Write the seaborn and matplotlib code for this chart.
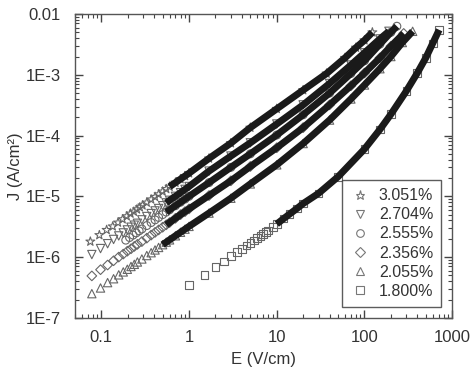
import matplotlib
matplotlib.use("Agg")
import matplotlib.pyplot as plt
import numpy as np
import pandas as pd
import seaborn as sns
from matplotlib.ticker import FixedLocator, FixedFormatter, LogLocator, NullFormatter
from matplotlib.lines import Line2D

# ---------------- data ----------------
series_labels = ["3.051%", "2.704%", "2.555%", "2.356%", "2.055%", "1.800%"]

star_E = [0.075, 0.095, 0.115, 0.135, 0.155, 0.175, 0.195, 0.215, 0.235, 0.255, 0.275, 0.295,
          0.33, 0.37, 0.41, 0.45, 0.5, 0.55, 0.6, 0.7, 0.8, 0.9,
          1, 1.69, 3, 5, 10, 20, 37, 60, 80, 100, 123]
star_J = [1.8e-6, 2.3e-6, 2.8e-6, 3.2e-6, 3.7e-6, 4.2e-6, 4.7e-6, 5.2e-6, 5.6e-6, 6.1e-6, 6.6e-6, 7.1e-6,
          7.9e-6, 8.9e-6, 9.8e-6, 1.08e-5, 1.2e-5, 1.32e-5, 1.44e-5, 1.68e-5, 1.92e-5, 2.16e-5,
          2.4e-5, 4.2e-5, 7.5e-5, 1.35e-4, 2.75e-4, 5.6e-4, 1.05e-3, 1.9e-3, 2.8e-3, 3.7e-3, 5.0e-3]

dtri_E = [0.078, 0.098, 0.118, 0.138, 0.158, 0.178, 0.198, 0.218, 0.238, 0.258,
          0.29, 0.33, 0.37, 0.41, 0.45, 0.5, 0.55, 0.6, 0.7, 0.8, 0.9,
          1, 1.69, 3, 5, 10, 20, 40, 70, 100, 150, 190]
dtri_J = [1.1e-6, 1.38e-6, 1.66e-6, 1.95e-6, 2.23e-6, 2.5e-6, 2.8e-6, 3.1e-6, 3.35e-6, 3.6e-6,
          4.1e-6, 4.65e-6, 5.2e-6, 5.75e-6, 6.3e-6, 7.0e-6, 7.8e-6, 8.6e-6, 1.0e-5, 1.15e-5, 1.3e-5,
          1.45e-5, 2.6e-5, 4.6e-5, 7.6e-5, 1.55e-4, 3.2e-4, 7.2e-4, 1.45e-3, 2.3e-3, 3.9e-3, 5.2e-3]

circ_E = [0.19, 0.21, 0.23, 0.25, 0.27, 0.29,
          0.33, 0.37, 0.41, 0.45, 0.5, 0.55, 0.6, 0.7, 0.8, 0.9,
          1, 1.69, 3, 5, 10, 20, 40, 70, 100, 150, 200, 234]
circ_J = [1.9e-6, 2.1e-6, 2.3e-6, 2.5e-6, 2.7e-6, 2.9e-6,
          3.3e-6, 3.7e-6, 4.1e-6, 4.5e-6, 5.0e-6, 5.5e-6, 6.0e-6, 7.0e-6, 8.0e-6, 9.0e-6,
          1.0e-5, 1.68e-5, 3.0e-5, 5.0e-5, 1.02e-4, 2.2e-4, 5.0e-4, 1.05e-3, 1.7e-3, 3.2e-3, 5.0e-3, 6.3e-3]

diam_E = [0.078, 0.098, 0.118, 0.138, 0.158, 0.178, 0.198, 0.218, 0.238, 0.258,
          0.29, 0.33, 0.37, 0.41, 0.45, 0.5, 0.55, 0.6, 0.7, 0.8, 0.9,
          1, 1.69, 3, 5, 10, 20, 40, 70, 100, 150, 200, 280]
diam_J = [4.9e-7, 6.2e-7, 7.4e-7, 8.7e-7, 1.0e-6, 1.12e-6, 1.25e-6, 1.37e-6, 1.5e-6, 1.62e-6,
          1.8e-6, 2.05e-6, 2.3e-6, 2.55e-6, 2.8e-6, 3.1e-6, 3.4e-6, 3.7e-6, 4.35e-6, 5.0e-6, 5.6e-6,
          6.2e-6, 1.03e-5, 1.8e-5, 3.1e-5, 6.3e-5, 1.35e-4, 3.2e-4, 6.6e-4, 1.07e-3, 1.9e-3, 2.95e-3, 4.8e-3]

utri_E = [0.078, 0.098, 0.118, 0.138, 0.158, 0.178, 0.198, 0.218, 0.238, 0.258,
          0.29, 0.33, 0.37, 0.41, 0.45, 0.5, 0.55, 0.6, 0.7, 0.8, 0.9,
          1, 1.69, 3, 5, 10, 20, 40, 70, 100, 150, 200, 270, 354]
utri_J = [2.5e-7, 3.1e-7, 3.8e-7, 4.4e-7, 5.1e-7, 5.7e-7, 6.3e-7, 7.0e-7, 7.6e-7, 8.3e-7,
          9.3e-7, 1.06e-6, 1.18e-6, 1.31e-6, 1.44e-6, 1.6e-6, 1.76e-6, 1.92e-6, 2.24e-6, 2.56e-6, 2.88e-6,
          3.2e-6, 5.3e-6, 9.3e-6, 1.6e-5, 3.3e-5, 7.4e-5, 1.8e-4, 4.0e-4, 6.8e-4, 1.26e-3, 2.0e-3, 3.4e-3, 5.2e-3]

sq_E = [1.0, 1.5, 2.0, 2.5, 3.0, 3.5, 4.0, 4.5, 5.0, 5.5, 6, 6.5, 7, 7.5, 8, 9,
        10, 12, 14, 17, 20, 30, 50, 100, 150, 200, 300, 400, 500, 600, 710]
sq_J = [3.5e-7, 5.1e-7, 6.9e-7, 8.5e-7, 1.03e-6, 1.2e-6, 1.37e-6, 1.54e-6, 1.7e-6, 1.87e-6, 2.05e-6, 2.22e-6,
        2.4e-6, 2.57e-6, 2.75e-6, 3.1e-6,
        3.5e-6, 4.3e-6, 5.1e-6, 6.3e-6, 7.6e-6, 1.12e-5, 2.1e-5, 6.0e-5, 1.26e-4, 2.24e-4, 5.4e-4, 1.07e-3,
        1.9e-3, 3.3e-3, 5.5e-3]

x_ticks = [0.1, 1, 10, 100, 1000]
x_ticklabels = ["0.1", "1", "10", "100", "1000"]
y_ticks = [1e-7, 1e-6, 1e-5, 1e-4, 1e-3, 1e-2]
y_ticklabels = ["1E-7", "1E-6", "1E-5", "1E-4", "1E-3", "0.01"]

all_E = [star_E, dtri_E, circ_E, diam_E, utri_E, sq_E]
all_J = [star_J, dtri_J, circ_J, diam_J, utri_J, sq_J]

frames = []
for lab, e, j in zip(series_labels, all_E, all_J):
    frames.append(pd.DataFrame({"E": e, "J": j, "series": lab}))
df = pd.concat(frames, ignore_index=True)

# ---------------- style ----------------
markers = {"3.051%": "*", "2.704%": "v", "2.555%": "o", "2.356%": "D", "2.055%": "^", "1.800%": "s"}
msize = {"3.051%": 45, "2.704%": 36, "2.555%": 32, "2.356%": 24, "2.055%": 36, "1.800%": 30}
band_from = {"3.051%": 0.6, "2.704%": 0.55, "2.555%": 0.55, "2.356%": 0.55, "2.055%": 0.5, "1.800%": 10}

sns.set_theme(style="ticks")
plt.rcParams["font.family"] = ["Liberation Sans", "DejaVu Sans"]

fig = plt.figure(figsize=(4.74, 3.70), dpi=100)
ax = fig.add_axes([0.158, 0.141, 0.796, 0.821])

for lab in series_labels:
    sub = df[df.series == lab]
    sns.scatterplot(data=sub, x="E", y="J", ax=ax, marker=markers[lab], s=msize[lab],
                    facecolor="none", edgecolor="#666666", linewidth=0.8, legend=False, zorder=2)

for lab in series_labels:
    sub = df[(df.series == lab) & (df.E >= band_from[lab])]
    sns.lineplot(data=sub, x="E", y="J", ax=ax, color="#1a1a1a", linewidth=5.0,
                 estimator=None, sort=False, legend=False, solid_capstyle="butt", zorder=3)

ax.set_xscale("log")
ax.set_yscale("log")
ax.set_xlim(0.05, 1000)
ax.set_ylim(1e-7, 1e-2)

ax.xaxis.set_major_locator(FixedLocator(x_ticks))
ax.xaxis.set_major_formatter(FixedFormatter(x_ticklabels))
ax.yaxis.set_major_locator(FixedLocator(y_ticks))
ax.yaxis.set_major_formatter(FixedFormatter(y_ticklabels))
ax.xaxis.set_minor_locator(LogLocator(base=10, subs=np.arange(2, 10), numticks=20))
ax.yaxis.set_minor_locator(LogLocator(base=10, subs=np.arange(2, 10), numticks=20))
ax.xaxis.set_minor_formatter(NullFormatter())
ax.yaxis.set_minor_formatter(NullFormatter())

ax.tick_params(which="both", direction="in", top=True, right=True, color="#444444")
ax.tick_params(which="major", length=6, width=1.0, labelsize=12, labelcolor="#333333")
ax.tick_params(axis="x", which="major", pad=9)
ax.tick_params(axis="y", which="major", pad=10)
ax.tick_params(which="minor", length=3, width=0.8)
for sp in ax.spines.values():
    sp.set_color("#555555")
    sp.set_linewidth(1.0)

ax.set_xlabel("E (V/cm)", fontsize=12, color="#333333", labelpad=5)
ax.set_ylabel("J (A/cm²)", fontsize=12, color="#333333", labelpad=2)

handles = [Line2D([], [], linestyle="none", marker=markers[l], markersize=5.5 if l != "3.051%" else 6.5,
                  markerfacecolor="none", markeredgecolor="#777777", markeredgewidth=0.8)
           for l in series_labels]
leg = ax.legend(handles, series_labels, loc="lower right", bbox_to_anchor=(0.971, 0.036),
                fontsize=11.5, frameon=True, fancybox=False, edgecolor="#333333",
                labelspacing=0.26, handletextpad=0.5, borderpad=0.5, handlelength=1.3,
                borderaxespad=0.0)
leg.get_frame().set_linewidth(1.0)
for t in leg.get_texts():
    t.set_color("#333333")

fig.savefig("out.png", dpi=100)
